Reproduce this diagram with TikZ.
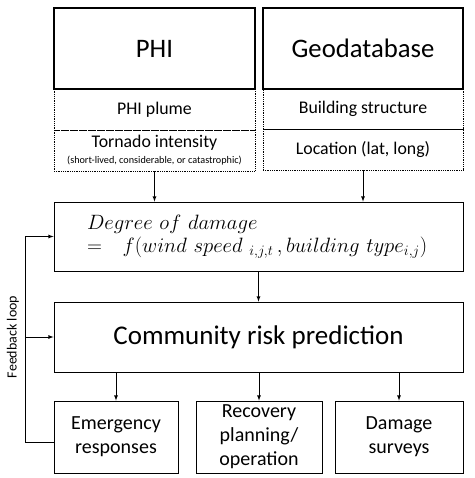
\documentclass[tikz,border=0pt]{standalone}
\usepackage{fontspec}
\setmainfont{Carlito}
\begin{document}
\begin{tikzpicture}[x=1pt,y=1pt]
        \tikzstyle{block} = [rectangle, text=black, text centered, draw=black, line width=.8, align=center, inner sep=1pt]
        \tikzstyle{head} = [block, line width=1.3, font=\fontsize{26.7}{30}\selectfont]
        \tikzstyle{sub} = [block, densely dotted, line width=.9, font=\fontsize{17.8}{20}\selectfont]
        \tikzstyle{result} = [block, font=\fontsize{20}{24}\selectfont]
        \tikzstyle{line} = [-latex,draw=black,line width=.8]
        \useasboundingbox (0,0) rectangle (474,-478);
        \node[sub, minimum width=201, minimum height=41] (plume) at (154.5,-109.5) {PHI plume};
        \node[sub, minimum width=201, minimum height=41] (tornado) at (154.5,-150.5) {Tornado intensity\\[-4pt]{\fontsize{10.2}{12}\selectfont (short-lived, considerable, or catastrophic)}};
        \node[sub, minimum width=200, minimum height=40] (struct) at (363,-109) {Building structure};
        \node[sub, minimum width=200, minimum height=41] (loc) at (363,-149.5) {Location (lat, long)};
        \node[head, minimum width=201, minimum height=81] (phi) at (154.5,-48.5) {PHI};
        \node[head, minimum width=200, minimum height=81] (geo) at (363,-48.5) {Geodatabase};
        \node[block, minimum height=69, text width=343, inner xsep=33, align=left, font=\fontsize{20}{23}\selectfont] (dmg) at (258.5,-236.5) {$Degree\ of\ damage$\\$=\;\;\, f(wind\ speed\ _{i,j,t}\,,building\ type_{i,j})$};
        \node[block, minimum width=409, minimum height=70, font=\fontsize{27}{30}\selectfont] (risk) at (258.5,-337) {Community risk prediction};
        \node[result, minimum width=124, minimum height=72] (emerg) at (116,-437) {Emergency\\responses};
        \node[result, minimum width=126, minimum height=72] (recov) at (259,-437) {Recovery\\planning/\\operation};
        \node[result, minimum width=128, minimum height=72] (survey) at (399,-437) {Damage\\surveys};
        \node[rotate=90, font=\fontsize{14}{16}\selectfont] (fblabel) at (13,-337) {Feedback loop};
        \coordinate (loop) at (25,-442);
        \draw[line] (tornado.south) to (tornado.south |- dmg.north);
        \draw[line] (loc.south) to (loc.south |- dmg.north);
        \draw[line] (dmg.south) to (risk.north);
        \draw[line] (emerg.north |- risk.south) to (emerg.north);
        \draw[line] (recov.north |- risk.south) to (recov.north);
        \draw[line] (survey.north |- risk.south) to (survey.north);
        \draw[line] ([yshift=-5]emerg.west) -- (loop) |- (dmg.west);
        \draw[line] (loop |- risk.west) to (risk.west);
        %\draw[line] (emerg.west) -| (loop) |- (risk.west);
    \end{tikzpicture}
\end{document}
